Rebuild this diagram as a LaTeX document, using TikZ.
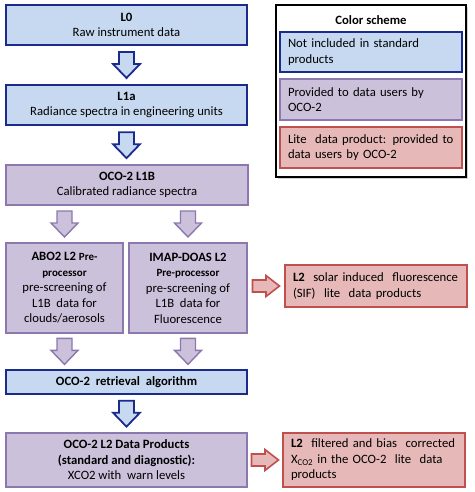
\documentclass[tikz,border=0pt]{standalone}
\usepackage{fontspec}
\setmainfont{Carlito}
\usetikzlibrary{calc,shadows}
\definecolor{lblue}{HTML}{C6D9F1}
\definecolor{dblue}{HTML}{1A2B8C}
\definecolor{lpurp}{HTML}{CCC1DA}
\definecolor{dpurp}{HTML}{8C78AE}
\definecolor{lred}{HTML}{E6B9B8}
\definecolor{dred}{HTML}{C0504D}
\newcommand\presize{\fontsize{11}{15.5}\selectfont\bfseries}
\begin{document}
\begin{tikzpicture}[x=1pt,y=-1pt,
 every node/.style={font=\fontsize{12.7}{15.5}\selectfont,inner sep=2pt},
 bluebox/.style={draw=dblue,line width=2.2pt,fill=lblue,align=center},
 purpbox/.style={draw=dpurp,line width=1.6pt,fill=lpurp,align=center},
 redbox/.style={draw=dred,line width=1.8pt,fill=lred,align=left,text width=166pt,inner xsep=8pt},
 downarr/.style={to path={let \p1=(\tikztostart), \p3=($(\tikztostart)!0.5!(\tikztotarget)$) in
   (\x1-7.5pt,\y3+13pt) -- (\x1+7.5pt,\y3+13pt) -- (\x1+7.5pt,\y3+1pt) -- (\x1+13.5pt,\y3+1pt)
   -- (\x1,\y3-13pt) -- (\x1-13.5pt,\y3+1pt) -- (\x1-7.5pt,\y3+1pt) -- cycle}},
 rightarr/.style={to path={let \p2=(\tikztotarget), \p3=($(\tikztostart)!0.5!(\tikztotarget)$) in
   (\x3-13.5pt,\y2+6pt) -- (\x3,\y2+6pt) -- (\x3,\y2+10.5pt) -- (\x3+13.5pt,\y2)
   -- (\x3,\y2-10.5pt) -- (\x3,\y2-6pt) -- (\x3-13.5pt,\y2-6pt) -- cycle}},
 bluearr/.style={downarr,draw=dblue,line width=1.8pt,fill=lblue,line join=miter},
 purparr/.style={downarr,draw=dpurp,line width=1.4pt,fill=lpurp},
 redarr/.style={rightarr,draw=dred,line width=1.6pt,fill=lred}]
\useasboundingbox (0,0) rectangle (474,492);

% processing chain
\node[bluebox,minimum width=241pt,minimum height=40pt] (l0) at (126.5,25)
 {\textbf{L0}\\Raw instrument data};
\node[bluebox,minimum width=241pt,minimum height=40pt] (l1a) at (126.5,105)
 {\textbf{L1a}\\Radiance spectra in engineering units};
\node[purpbox,minimum width=242pt,minimum height=40pt] (l1b) at (127,185)
 {\textbf{OCO-2 L1B}\\Calibrated radiance spectra};
\node[purpbox,minimum width=117pt,minimum height=90pt] (abo) at (64.5,288)
 {\textbf{ABO2 L2} {\presize Pre-}\\{\presize processor}\\pre-screening of\\L1B\ \ data for\\clouds/aerosols};
\node[purpbox,minimum width=118pt,minimum height=90pt] (imap) at (188,288)
 {\textbf{IMAP-DOAS L2}\\{\presize Pre-processor}\\pre-screening of\\L1B\ \ data for\\Fluorescence};
\node[bluebox,minimum width=241pt,minimum height=24pt] (retr) at (126.5,382)
 {\textbf{OCO-2\ \ retrieval\ \ algorithm}};
\node[purpbox,minimum width=241pt,minimum height=54pt] (l2) at (126.5,460)
 {\textbf{OCO-2 L2 Data Products}\\\textbf{(standard and diagnostic):}\\XCO2 with\ \ warn levels};

% lite products
\node[redbox,minimum height=42pt] (sif) at (376,286)
 {\textbf{L2}\ \ solar induced\ \ fluorescence\\(SIF)\ \ lite\ \ data products};
\node[redbox,minimum height=54pt] (xco) at (374,460)
 {\textbf{L2}\ \ filtered and bias\ \ corrected\\X\textsubscript{CO2} in the OCO-2\ \ lite\ \ data\\products};

% legend
\node[draw=black,line width=2.6pt,fill=white,minimum width=190pt,minimum height=172pt,
 drop shadow={shadow xshift=2pt,shadow yshift=-2pt,fill=black!35}] (key) at (371,91) {};
\node (keytitle) at (371,20) {\textbf{Color scheme}};
\node[bluebox,align=left,text width=166pt,inner xsep=8pt,minimum height=40pt] (keyblue) at (371,52)
 {Not included in standard\\products};
\node[purpbox,align=left,text width=166pt,inner xsep=8pt,minimum height=41pt] (keypurp) at (371,99.5)
 {Provided to data users by\\OCO-2};
\node[redbox,minimum height=41pt] (keyred) at (371,147.5)
 {Lite\ \ data product: provided to\\data users by OCO-2};

% block arrows
\draw[bluearr] (l0.south) to (l1a.north);
\draw[bluearr] (l1a.south) to (l1b.north);
\draw[purparr] (abo.north |- l1b.south) to (abo.north);
\draw[purparr] (imap.north |- l1b.south) to (imap.north);
\draw[purparr] (abo.south) to (abo.south |- retr.north);
\draw[purparr] (imap.south) to (imap.south |- retr.north);
\draw[bluearr] (retr.south) to (l2.north);
\draw[redarr] (imap.east) to (sif.west);
\draw[redarr] (l2.east) to (xco.west);
\end{tikzpicture}
\end{document}
